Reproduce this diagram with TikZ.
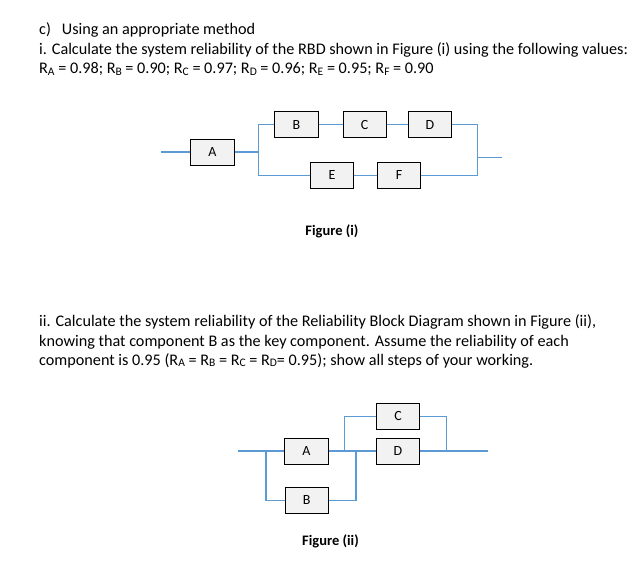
\documentclass[tikz,border=0pt]{standalone}
\usepackage{fontspec}
\setmainfont{Carlito}
\usepackage{tikz}

\definecolor{wireblue}{RGB}{91,155,213}
\definecolor{boxgray}{RGB}{242,242,242}

\newcommand{\rsub}[1]{R\raisebox{-0.12em}{\fontsize{11.5}{12}\selectfont #1}}

\tikzset{
	block/.style={draw=black, fill=boxgray, line width=0.9pt, minimum width=43.5pt, minimum height=26pt, inner sep=0pt, font=\fontsize{14}{15}\selectfont},
	wire/.style={draw=wireblue, line width=1.2pt},
	para/.style={anchor=base west, inner sep=0pt, font=\fontsize{16.2}{18}\selectfont},
	caption/.style={anchor=base, inner sep=0pt, font=\fontsize{14.5}{16}\selectfont\bfseries}
}

\begin{document}
\begin{tikzpicture}[x=1pt,y=-1pt]
	\useasboundingbox (0,0) rectangle (633,578);

	% question text
	\node[para] (l1) at (39,35) {\makebox[22.7pt][l]{c)}Using an appropriate method};
	\node[para] (l2) at (39,54.7) {i. Calculate the system reliability of the RBD shown in Figure (i) using the following values:};
	\node[para] (l3) at (39,74) {\rsub{A} = 0.98; \rsub{B} = 0.90; \rsub{C} = 0.97; \rsub{D} = 0.96; \rsub{E} = 0.95; \rsub{F} = 0.90};

	% Figure (i)
	\node[block] (A) at (212.5,152) {A};
	\node[block] (B) at (296.5,124.8) {B};
	\node[block] (C) at (364.7,124.8) {C};
	\node[block] (D) at (430,124.8) {D};
	\node[block] (E) at (332,175.5) {E};
	\node[block] (F) at (399,175.5) {F};
	\coordinate (in1) at (160.7,152);
	\coordinate (j1) at (258.3,152);
	\coordinate (j2) at (477.7,157.3);
	\coordinate (out1) at (502,157.3);

	\draw[wire] (in1) -- (A) -- (j1);
	\draw[wire] (B) -| (j1) |- (E);
	\draw[wire] (B) -- (C) -- (D);
	\draw[wire] (E) -- (F);
	\draw[wire] (D) -| (j2) |- (F);
	\draw[wire] (j2) -- (out1);

	\node[caption] (cap1) at (332,235.7) {Figure (i)};

	% question text, part ii
	\node[para] (l4) at (39,326.7) {ii. Calculate the system reliability of the Reliability Block Diagram shown in Figure (ii),};
	\node[para] (l5) at (39,346) {knowing that component B as the key component. Assume the reliability of each};
	\node[para] (l6) at (39,365) {component is 0.95 (\rsub{A} = \rsub{B} = \rsub{C} = \rsub{D}= 0.95); show all steps of your working.};

	% Figure (ii)
	\node[block] (A2) at (306.3,451) {A};
	\node[block] (B2) at (306.7,500.5) {B};
	\node[block] (C2) at (398,416.5) {C};
	\node[block] (D2) at (398,451) {D};
	\coordinate (in2) at (238.3,451);
	\coordinate (k1) at (266,451);
	\coordinate (k2) at (356,451);
	\coordinate (k3) at (344.3,451);
	\coordinate (k4) at (446.7,451);
	\coordinate (out2) at (488.3,451);

	\draw[wire] (in2) -- (A2) -- (D2) -- (out2);
	\draw[wire] (k1) |- (B2) -| (k2);
	\draw[wire] (k3) |- (C2) -| (k4);

	\node[caption] (cap2) at (330.5,545.7) {Figure (ii)};

\end{tikzpicture}
\end{document}
